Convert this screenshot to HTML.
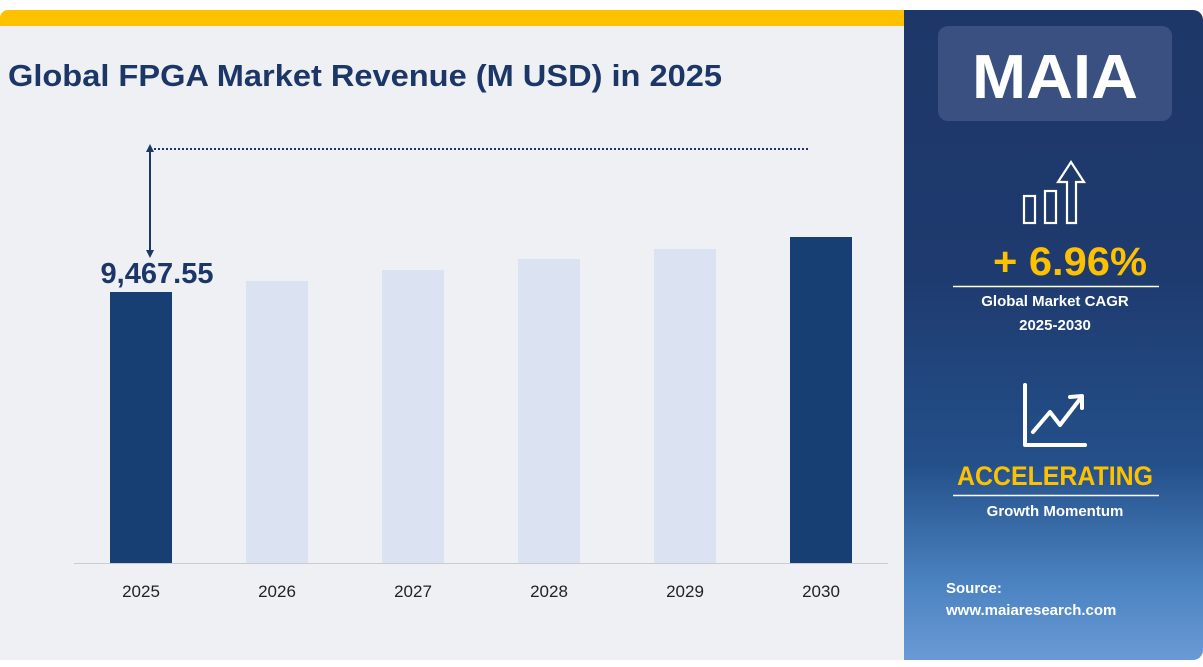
<!DOCTYPE html>
<html><head><meta charset="utf-8"><style>
body{margin:0;width:1203px;height:667px;background:#fff;position:relative;overflow:hidden;font-family:"Liberation Sans",sans-serif}
.abs{position:absolute}
</style></head><body>
<div class="abs" style="left:0;top:10px;width:904px;height:650px;background:#eff0f4;border-radius:8px 0 0 0"></div>
<div class="abs" style="left:0;top:10px;width:904px;height:16px;background:#fdc100;border-radius:8px 0 0 0"></div>
<div class="abs" style="left:904px;top:10px;width:299px;height:650px;border-radius:0 10px 10px 0;background:linear-gradient(180deg,#1e3769 0%,#1e3a6e 40%,#24508a 70%,#4a82c0 88%,#6a9ad6 100%)"></div>
<div class="abs" style="left:938px;top:26px;width:234px;height:95px;border-radius:10px;background:#3a5080"></div>
<svg class="abs" style="left:0;top:0" width="1203" height="667">
<text x="8" y="86" font-size="31" font-weight="bold" fill="#1c3767" textLength="714" lengthAdjust="spacingAndGlyphs">Global FPGA Market Revenue (M USD) in 2025</text>
<line x1="150" y1="149" x2="808" y2="149" stroke="#1c3767" stroke-width="2" stroke-dasharray="2,2"/>
<line x1="150" y1="148" x2="150" y2="254" stroke="#1c3767" stroke-width="2"/>
<polygon points="146,152 154,152 150,144" fill="#1c3767"/>
<polygon points="146,250 154,250 150,258" fill="#1c3767"/>
<text x="157" y="283" font-size="29" font-weight="bold" fill="#1c3767" text-anchor="middle" textLength="113" lengthAdjust="spacingAndGlyphs">9,467.55</text>
<rect x="110" y="292" width="62" height="271" fill="#173f73"/>
<rect x="246" y="281" width="62" height="282" fill="#dbe3f2"/>
<rect x="382" y="270" width="62" height="293" fill="#dbe3f2"/>
<rect x="518" y="259" width="62" height="304" fill="#dbe3f2"/>
<rect x="654" y="249" width="62" height="314" fill="#dbe3f2"/>
<rect x="790" y="237" width="62" height="326" fill="#173f73"/>
<line x1="74" y1="563.5" x2="888" y2="563.5" stroke="#c8ccd4" stroke-width="1"/>
<g font-size="17" fill="#222" text-anchor="middle">
<text x="141" y="597">2025</text><text x="277" y="597">2026</text><text x="413" y="597">2027</text>
<text x="549" y="597">2028</text><text x="685" y="597">2029</text><text x="821" y="597">2030</text></g>
<text x="1055" y="98" font-size="62" font-weight="bold" fill="#fff" text-anchor="middle" textLength="166" lengthAdjust="spacingAndGlyphs">MAIA</text>
<g fill="none" stroke="#fff" stroke-width="2.2">
<rect x="1024" y="196" width="11" height="27"/><rect x="1045" y="191" width="11" height="32"/>
<polygon points="1067,223 1076,223 1076,182 1084,182 1071,162 1058,182 1067,182"/>
</g>
<text x="1070" y="275" font-size="40" font-weight="bold" fill="#fdc100" text-anchor="middle" textLength="154" lengthAdjust="spacingAndGlyphs">+ 6.96%</text>
<line x1="953" y1="286.5" x2="1159" y2="286.5" stroke="#fff" stroke-width="1.5"/>
<g font-size="15" font-weight="bold" fill="#fff" text-anchor="middle">
<text x="1055" y="306">Global Market CAGR</text><text x="1055" y="330">2025-2030</text></g>
<g fill="none" stroke="#fff" stroke-width="4" stroke-linecap="round" stroke-linejoin="round">
<polyline points="1025,385 1025,445 1085,445"/>
<polyline points="1033,432 1050,412 1060,425 1080,399"/>
<polyline points="1070,397 1082,396 1082,408"/>
</g>
<text x="1055" y="485" font-size="27" font-weight="bold" fill="#fdc100" text-anchor="middle" textLength="196" lengthAdjust="spacingAndGlyphs">ACCELERATING</text>
<line x1="953" y1="495.5" x2="1159" y2="495.5" stroke="#fff" stroke-width="1.5"/>
<text x="1055" y="516" font-size="15" font-weight="bold" fill="#fff" text-anchor="middle">Growth Momentum</text>
<g font-size="15" font-weight="bold" fill="#fff">
<text x="946" y="593">Source:</text><text x="946" y="615">www.maiaresearch.com</text></g>
</svg>
</body></html>
